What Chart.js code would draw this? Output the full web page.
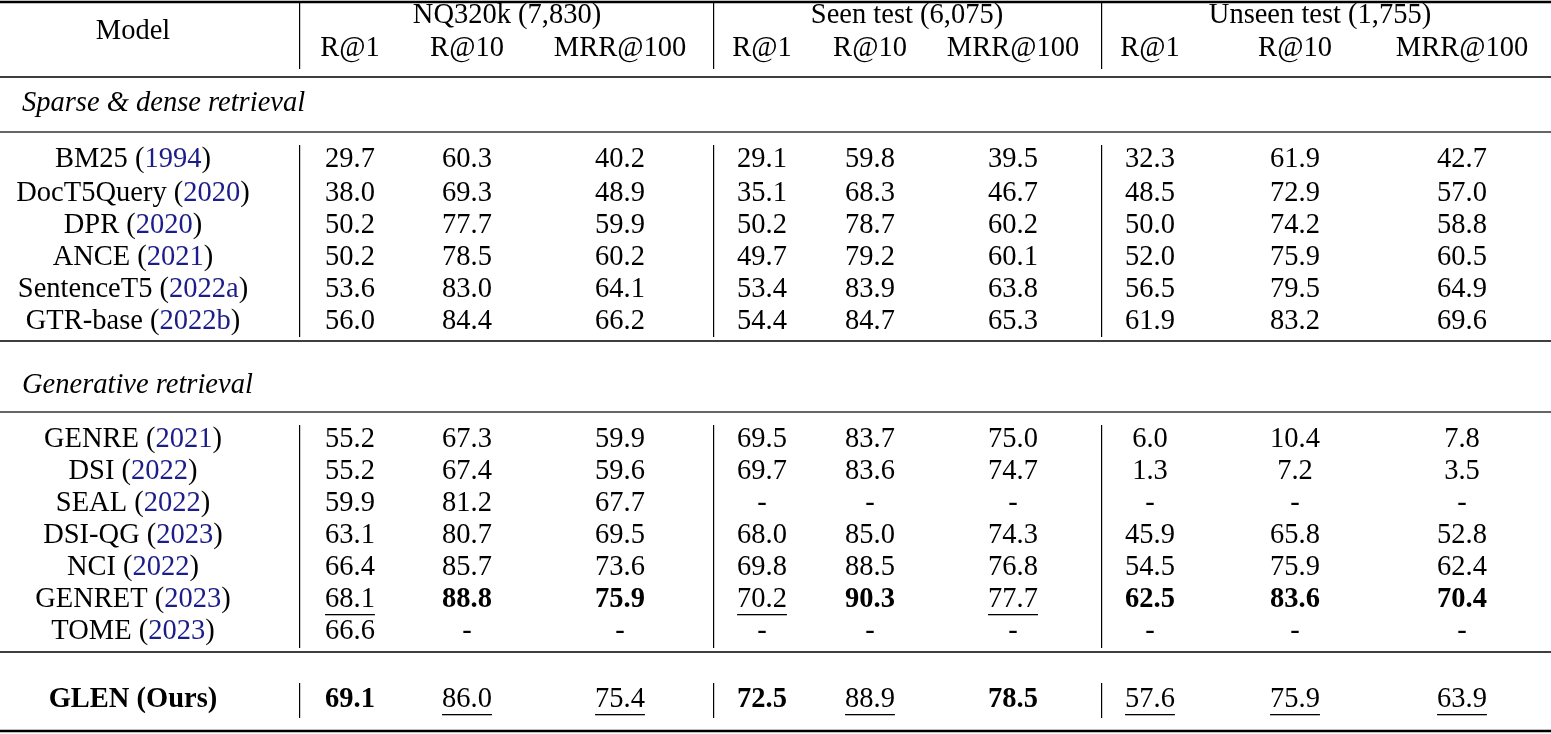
<!DOCTYPE html>
<html>
<head>
<meta charset="utf-8">
<script src="https://cdn.jsdelivr.net/npm/chart.js@4/dist/chart.umd.min.js"></script>
<style>
  body { margin: 0; background: #fff; }
  #wrap { width: 1551px; height: 734px; }
</style>
</head>
<body>
<div id="wrap"><canvas id="tbl" width="1551" height="734"></canvas></div>
<script>
// table content ("*" = bold, "_" = underline)
const groups = ['NQ320k (7,830)', 'Seen test (6,075)', 'Unseen test (1,755)'];
const metrics = ['R@1', 'R@10', 'MRR@100'];
const sections = ['Sparse & dense retrieval', 'Generative retrieval'];

const sparseModels = [['BM25', '1994'], ['DocT5Query', '2020'], ['DPR', '2020'], ['ANCE', '2021'], ['SentenceT5', '2022a'], ['GTR-base', '2022b']];
const sparseValues = [
    ['29.7', '60.3', '40.2', '29.1', '59.8', '39.5', '32.3', '61.9', '42.7'],
    ['38.0', '69.3', '48.9', '35.1', '68.3', '46.7', '48.5', '72.9', '57.0'],
    ['50.2', '77.7', '59.9', '50.2', '78.7', '60.2', '50.0', '74.2', '58.8'],
    ['50.2', '78.5', '60.2', '49.7', '79.2', '60.1', '52.0', '75.9', '60.5'],
    ['53.6', '83.0', '64.1', '53.4', '83.9', '63.8', '56.5', '79.5', '64.9'],
    ['56.0', '84.4', '66.2', '54.4', '84.7', '65.3', '61.9', '83.2', '69.6']
];

const genModels = [['GENRE', '2021'], ['DSI', '2022'], ['SEAL', '2022'], ['DSI-QG', '2023'], ['NCI', '2022'], ['GENRET', '2023'], ['TOME', '2023']];
const genValues = [
    ['55.2', '67.3', '59.9', '69.5', '83.7', '75.0', '6.0', '10.4', '7.8'],
    ['55.2', '67.4', '59.6', '69.7', '83.6', '74.7', '1.3', '7.2', '3.5'],
    ['59.9', '81.2', '67.7', '-', '-', '-', '-', '-', '-'],
    ['63.1', '80.7', '69.5', '68.0', '85.0', '74.3', '45.9', '65.8', '52.8'],
    ['66.4', '85.7', '73.6', '69.8', '88.5', '76.8', '54.5', '75.9', '62.4'],
    ['_68.1', '*88.8', '*75.9', '_70.2', '*90.3', '_77.7', '*62.5', '*83.6', '*70.4'],
    ['66.6', '-', '-', '-', '-', '-', '-', '-', '-']
];

const oursModel = 'GLEN (Ours)';
const oursValues = ['*69.1', '_86.0', '_75.4', '*72.5', '_88.9', '*78.5', '_57.6', '_75.9', '_63.9'];

// layout (scale units = pixels)
const modelX = 133;
const colX = [350, 467, 620, 762, 870, 1013, 1150, 1295, 1462];
const groupX = [507, 907, 1320];
const sepX = [299, 713, 1101];
const sparseY = [160, 194, 226, 258, 290, 322];
const genY = [440, 472, 504, 536, 568, 600, 632];
const oursY = 700;

const points = [];
sparseY.concat(genY, [oursY]).forEach(y => colX.forEach(x => points.push({ x: x, y: y })));

const serif = '"Liberation Serif", "DejaVu Serif", serif';
const fontSize = '28.5px ';
const citeColor = '#1c1c8a';

function drawCell(ctx, text, x, y) {
    let bold = false, under = false;
    if (text[0] === '*') { bold = true; text = text.slice(1); }
    if (text[0] === '_') { under = true; text = text.slice(1); }
    ctx.font = (bold ? 'bold ' : '') + fontSize + serif;
    ctx.textAlign = 'center';
    ctx.fillStyle = '#000';
    ctx.fillText(text, x, y);
    if (under) {
        const w = ctx.measureText(text).width;
        ctx.fillRect(x - w / 2, y + 14, w, 1.3);
    }
}

function drawModel(ctx, name, year, x, y) {
    ctx.font = fontSize + serif;
    const a = name + ' (', c = ')';
    const wa = ctx.measureText(a).width, wb = ctx.measureText(year).width, wc = ctx.measureText(c).width;
    let left = x - (wa + wb + wc) / 2;
    ctx.textAlign = 'left';
    ctx.fillStyle = '#000';
    ctx.fillText(a, left, y);
    ctx.fillStyle = citeColor;
    ctx.fillText(year, left + wa, y);
    ctx.fillStyle = '#000';
    ctx.fillText(c, left + wa + wb, y);
}

const tablePlugin = {
    id: 'tablePlugin',
    afterDatasetsDraw(chart) {
        const ctx = chart.ctx;
        const sx = chart.scales.x, sy = chart.scales.y;
        const X = v => sx.getPixelForValue(v), Y = v => sy.getPixelForValue(v);
        ctx.save();
        ctx.textBaseline = 'middle';
        ctx.fillStyle = '#000';

        // horizontal rules
        const hline = (y, w) => ctx.fillRect(X(0), Y(y) - w / 2, X(1551) - X(0), w);
        hline(2, 2.5); hline(77, 1.5); hline(132, 1.2); hline(341, 1.5); hline(412, 1.2); hline(652, 1.5); hline(731, 2.5);

        // vertical separators
        const vspans = [[2, 69], [145, 337], [425, 648], [683, 718]];
        sepX.forEach(sx0 => vspans.forEach(s => ctx.fillRect(X(sx0), Y(s[0]), 1.2, Y(s[1]) - Y(s[0]))));

        // header
        ctx.font = fontSize + serif;
        ctx.textAlign = 'center';
        ctx.fillText('Model', X(modelX), Y(32));
        groups.forEach((g, i) => ctx.fillText(g, X(groupX[i]), Y(16)));
        colX.forEach((cx, i) => ctx.fillText(metrics[i % 3], X(cx), Y(49)));

        // section titles
        ctx.font = 'italic ' + fontSize + serif;
        ctx.textAlign = 'left';
        ctx.fillText(sections[0], X(22), Y(104));
        ctx.fillText(sections[1], X(22), Y(386));

        sparseModels.forEach((m, r) => {
            drawModel(ctx, m[0], m[1], X(modelX), Y(sparseY[r]));
            sparseValues[r].forEach((v, c) => drawCell(ctx, v, X(colX[c]), Y(sparseY[r])));
        });
        genModels.forEach((m, r) => {
            drawModel(ctx, m[0], m[1], X(modelX), Y(genY[r]));
            genValues[r].forEach((v, c) => drawCell(ctx, v, X(colX[c]), Y(genY[r])));
        });
        ctx.font = 'bold ' + fontSize + serif;
        ctx.textAlign = 'center';
        ctx.fillStyle = '#000';
        ctx.fillText(oursModel, X(modelX), Y(oursY));
        oursValues.forEach((v, c) => drawCell(ctx, v, X(colX[c]), Y(oursY)));
        ctx.restore();
    }
};

new Chart(document.getElementById('tbl').getContext('2d'), {
    type: 'scatter',
    data: { datasets: [{ data: points, pointRadius: 0, pointHoverRadius: 0 }] },
    options: {
        responsive: false,
        animation: false,
        layout: { padding: 0 },
        plugins: { legend: { display: false }, tooltip: { enabled: false } },
        scales: {
            x: { type: 'linear', min: 0, max: 1551, display: false },
            y: { type: 'linear', min: 0, max: 734, reverse: true, display: false }
        }
    },
    plugins: [tablePlugin]
});
</script>
</body>
</html>
